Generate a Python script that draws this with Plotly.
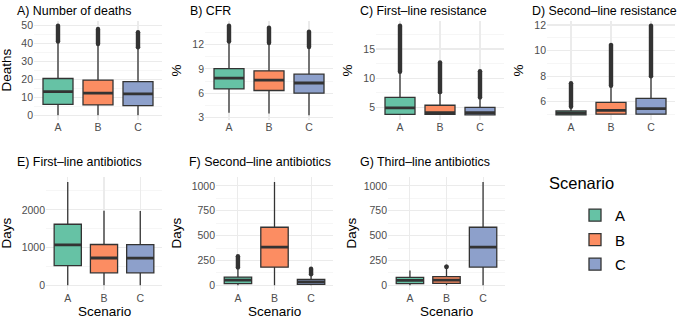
import plotly.graph_objects as go

W, H = 685, 323

scenarios = ["A", "B", "C"]
fill_colors = ["#66C2A5", "#FC8D62", "#8DA0CB"]

# ---- A) Number of deaths ----
deaths_lo = [0.0, 0.0, 0.0]
deaths_q1 = [6.0, 5.7, 5.3]
deaths_med = [13.2, 12.3, 11.9]
deaths_q3 = [20.5, 19.6, 18.7]
deaths_hi = [41.2, 39.7, 37.9]
deaths_out_lo = [41.2, 39.7, 37.9]
deaths_out_hi = [50.0, 48.2, 46.3]

# ---- B) CFR (%) ----
cfr_lo = [3.57, 3.49, 3.28]
cfr_q1 = [6.53, 6.33, 6.0]
cfr_med = [7.86, 7.62, 7.26]
cfr_q3 = [9.04, 8.76, 8.35]
cfr_hi = [12.4, 12.2, 11.7]
cfr_out_lo = [12.4, 12.2, 11.7]
cfr_out_hi = [14.35, 14.1, 13.6]

# ---- C) First-line resistance (%) ----
res1_lo = [3.7, 3.7, 3.65]
res1_q1 = [3.8, 3.8, 3.7]
res1_med = [4.9, 4.1, 4.1]
res1_q3 = [6.7, 5.35, 5.0]
res1_hi = [11.1, 7.6, 6.7]
res1_out_lo = [11.1, 7.6, 6.7]
res1_out_hi = [19.0, 12.7, 11.2]

# ---- D) Second-line resistance (%) ----
res2_lo = [4.95, 5.0, 5.0]
res2_q1 = [4.97, 5.03, 5.03]
res2_med = [5.12, 5.33, 5.46]
res2_q3 = [5.28, 5.95, 6.26]
res2_hi = [5.6, 7.25, 8.0]
res2_out_lo = [5.6, 7.25, 8.0]
res2_out_hi = [7.45, 10.45, 11.95]

# ---- E) First-line antibiotics (days) ----
abx1_lo = [0, 0, 0]
abx1_q1 = [522, 331, 331]
abx1_med = [1070, 723, 720]
abx1_q3 = [1618, 1081, 1080]
abx1_hi = [2740, 1977, 1970]
abx1_out_lo = [None, None, None]
abx1_out_hi = [None, None, None]

# ---- F) Second-line antibiotics (days) ----
abx2_lo = [0, 0, 0]
abx2_q1 = [17, 182, 10]
abx2_med = [53, 383, 35]
abx2_q3 = [83, 584, 60]
abx2_hi = [180, 1040, 110]
abx2_out_lo = [180, None, 110]
abx2_out_hi = [293, None, 167]

# ---- G) Third-line antibiotics (days) ----
abx3_lo = [0, 0, 0]
abx3_q1 = [17, 20, 183]
abx3_med = [50, 53, 383]
abx3_q3 = [80, 87, 584]
abx3_hi = [150, 170, 1040]
abx3_out_lo = [None, 187, None]
abx3_out_hi = [None, 187, None]

data = {
    "deaths": (deaths_lo, deaths_q1, deaths_med, deaths_q3, deaths_hi, deaths_out_lo, deaths_out_hi),
    "cfr": (cfr_lo, cfr_q1, cfr_med, cfr_q3, cfr_hi, cfr_out_lo, cfr_out_hi),
    "res1": (res1_lo, res1_q1, res1_med, res1_q3, res1_hi, res1_out_lo, res1_out_hi),
    "res2": (res2_lo, res2_q1, res2_med, res2_q3, res2_hi, res2_out_lo, res2_out_hi),
    "abx1": (abx1_lo, abx1_q1, abx1_med, abx1_q3, abx1_hi, abx1_out_lo, abx1_out_hi),
    "abx2": (abx2_lo, abx2_q1, abx2_med, abx2_q3, abx2_hi, abx2_out_lo, abx2_out_hi),
    "abx3": (abx3_lo, abx3_q1, abx3_med, abx3_q3, abx3_hi, abx3_out_lo, abx3_out_hi),
}

# ---- layout spec (pixels) ----
rows_px = [(19.5, 119.5), (177.5, 293.0)]
panels = [
    dict(key="deaths", title="A) Number of deaths", ytitle="Deaths", x0=34, x1=162, row=0, dtick=10, minor=5, tx=15, yx=6),
    dict(key="cfr", title="B) CFR", ytitle="%", x0=205, x1=333, row=0, dtick=3, minor=1.5, tx=188, yx=176),
    dict(key="res1", title="C) First\u2013line resistance", ytitle="%", x0=376, x1=504, row=0, dtick=5, minor=2.5, tx=358, yx=347),
    dict(key="res2", title="D) Second\u2013line resistance", ytitle="%", x0=547, x1=675, row=0, dtick=2, minor=1, tx=530, yx=518),
    dict(key="abx1", title="E) First\u2013line antibiotics", ytitle="Days", x0=46, x1=162, row=1, dtick=1000, minor=500, tx=15, yx=7),
    dict(key="abx2", title="F) Second\u2013line antibiotics", ytitle="Days", x0=216, x1=333, row=1, dtick=250, minor=125, tx=187, yx=177),
    dict(key="abx3", title="G) Third\u2013line antibiotics", ytitle="Days", x0=388, x1=505, row=1, dtick=250, minor=125, tx=358, yx=352),
]

FONT = "Liberation Sans, Arial, sans-serif"
EDGE = "#333333"
GRID = "#EBEBEB"
TICKC = "#4D4D4D"
BOXW = 0.75

def px_x(v):
    return v / W

def px_y(v):
    return 1 - v / H

fig = go.Figure()
annotations = []
layout = {}

for i, p in enumerate(panels):
    n = i + 1
    xa = "x" if n == 1 else f"x{n}"
    ya = "y" if n == 1 else f"y{n}"
    lo, q1, med, q3, hi, olo, ohi = data[p["key"]]
    for j, s in enumerate(scenarios):
        pos = j + 1
        fig.add_trace(go.Box(
            x=[pos], q1=[q1[j]], median=[med[j]], q3=[q3[j]],
            lowerfence=[lo[j]], upperfence=[hi[j]],
            width=BOXW, whiskerwidth=0, boxpoints=False,
            fillcolor=fill_colors[j], line=dict(color=EDGE, width=1.3),
            name=s, legendgroup=s, showlegend=(i == 0),
            xaxis=xa, yaxis=ya, hoverinfo="skip",
        ))
        fig.add_trace(go.Scatter(
            x=[pos - BOXW / 2, pos + BOXW / 2], y=[med[j], med[j]],
            mode="lines", line=dict(color=EDGE, width=2.8),
            showlegend=False, xaxis=xa, yaxis=ya, hoverinfo="skip",
        ))
        if olo[j] is not None:
            fig.add_trace(go.Scatter(
                x=[pos, pos], y=[olo[j], ohi[j]],
                mode="lines+markers", line=dict(color=EDGE, width=4.4),
                marker=dict(color=EDGE, size=4.4),
                showlegend=False, xaxis=xa, yaxis=ya, hoverinfo="skip",
            ))
    vals = list(lo) + list(hi) + [v for v in olo + ohi if v is not None]
    mn, mx = min(vals), max(vals)
    pad = 0.05 * (mx - mn)
    top, bot = rows_px[p["row"]]
    layout["xaxis" if n == 1 else f"xaxis{n}"] = dict(
        domain=[px_x(p["x0"]), px_x(p["x1"])], anchor=ya, range=[0.4, 3.6],
        tickvals=[1, 2, 3], ticktext=scenarios, showgrid=True, gridcolor=GRID, gridwidth=1.1,
        zeroline=False, showline=False, ticks="",
        tickfont=dict(family=FONT, size=10.5, color=TICKC), fixedrange=True,
    )
    layout["yaxis" if n == 1 else f"yaxis{n}"] = dict(
        domain=[px_y(bot), px_y(top)], anchor=xa, range=[mn - pad, mx + pad],
        tick0=0, dtick=p["dtick"], showgrid=True, gridcolor=GRID, gridwidth=1.1,
        minor=dict(tick0=0, dtick=p["minor"], showgrid=True, gridcolor="#F0F0F0", gridwidth=0.6),
        zeroline=False, showline=False, ticks="",
        tickfont=dict(family=FONT, size=10.5, color=TICKC), fixedrange=True,
    )
    title_y = 9 if p["row"] == 0 else 163
    annotations.append(dict(
        text=p["title"], x=px_x(p["tx"]), y=px_y(title_y), xref="paper", yref="paper",
        xanchor="left", yanchor="middle", showarrow=False,
        font=dict(family=FONT, size=12.4, color="#000000"),
    ))
    annotations.append(dict(
        text=p["ytitle"], x=px_x(p["yx"]), y=px_y((top + bot) / 2), xref="paper", yref="paper",
        xanchor="center", yanchor="middle", showarrow=False, textangle=-90,
        font=dict(family=FONT, size=13.5, color="#000000"),
    ))
    if p["row"] == 1:
        annotations.append(dict(
            text="Scenario", x=px_x((p["x0"] + p["x1"]) / 2), y=px_y(314), xref="paper", yref="paper",
            xanchor="center", yanchor="middle", showarrow=False,
            font=dict(family=FONT, size=13.5, color="#000000"),
        ))

annotations.append(dict(
    text="Scenario", x=px_x(547), y=px_y(184), xref="paper", yref="paper",
    xanchor="left", yanchor="middle", showarrow=False,
    font=dict(family=FONT, size=16.5, color="#000000"),
))

fig.update_layout(
    width=W, height=H,
    margin=dict(l=0, r=0, t=0, b=0),
    paper_bgcolor="white", plot_bgcolor="white",
    font=dict(family=FONT, color="#000000"),
    annotations=annotations,
    showlegend=True,
    legend=dict(
        x=px_x(575), y=px_y(200), xanchor="left", yanchor="top",
        font=dict(family=FONT, size=15, color="#000000"),
        tracegroupgap=2, bgcolor="rgba(0,0,0,0)", itemclick=False, itemdoubleclick=False,
    ),
    **layout,
)

fig.write_html(
    "out.html",
    config={"displayModeBar": False, "staticPlot": True},
    post_script="document.body.style.margin='0px';document.body.style.overflow='hidden';",
)
